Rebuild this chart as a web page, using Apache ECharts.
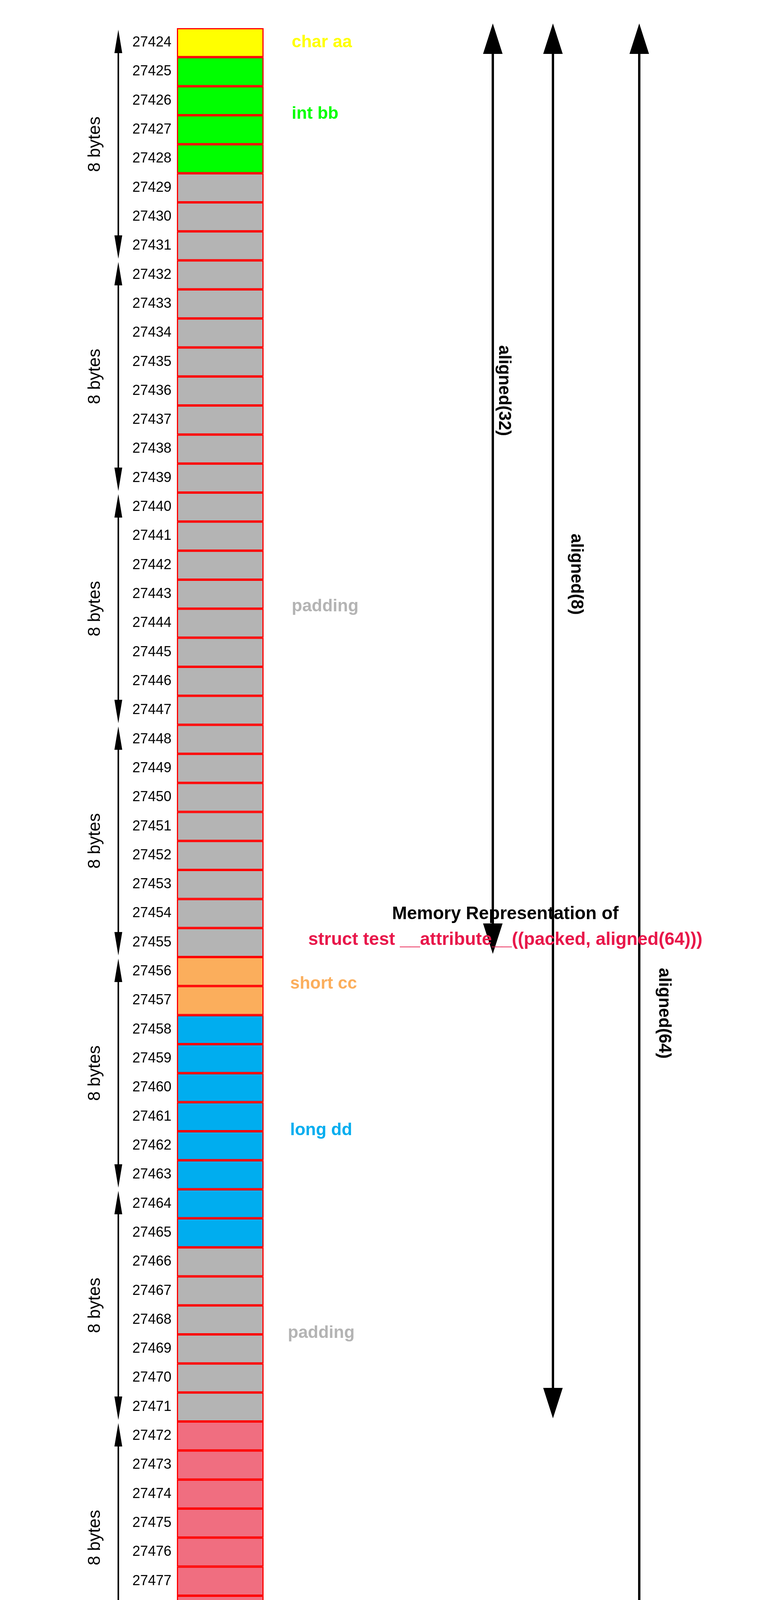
<!DOCTYPE html>
<html><head><meta charset="utf-8">
<script src="https://cdn.jsdelivr.net/npm/echarts@6/dist/echarts.min.js"></script>
<style>html,body{margin:0;padding:0;background:#fff}#c{width:2000px;height:4950px}</style>
</head><body><div id="c"></div>
<script>
const addresses = [];
for (let a = 27424; a <= 27487; a++) addresses.push(String(a));
// member type of each byte
const members = ['char','int','int','int','int','pad','pad','pad',
 'pad','pad','pad','pad','pad','pad','pad','pad',
 'pad','pad','pad','pad','pad','pad','pad','pad',
 'pad','pad','pad','pad','pad','pad','pad','pad',
 'short','short','long','long','long','long','long','long',
 'long','long','pad','pad','pad','pad','pad','pad',
 'union','union','union','union','union','union','union','union',
 'union','union','union','union','union','union','union','union'];
const memberColors = {char:'#ffff00', int:'#00ff00', pad:'#b4b4b4', short:'#fbae5c', long:'#00adef', union:'#f06e80'};
const groupSize = 8;
// alignment arrows: [label, first byte index, last byte index]
const alignArrows = [['aligned(32)',0,31],['aligned(8)',0,47],['aligned(64)',0,63]];

const chart = echarts.init(document.getElementById('c'), null, {renderer:'canvas'});
const FONT = "'Liberation Sans', Arial, sans-serif";
chart.setOption({
  animation:false,
  grid:{left:453, top:72, width:222, height:4756},
  xAxis:{type:'value', min:0, max:1, show:false},
  yAxis:{type:'category', data:addresses, inverse:true,
    axisLine:{show:false}, axisTick:{show:false}, splitLine:{show:false},
    axisLabel:{fontFamily:"'Liberation Sans', Arial, sans-serif", fontSize:36, color:'#000', margin:14}},
  series:[{type:'bar', barWidth:'100%', silent:true,
    data: members.map(m=>({value:1, itemStyle:{color:memberColors[m], borderColor:'#ff0000', borderWidth:3}}))}]
});

function yTop(i){ return chart.convertToPixel({yAxisIndex:0}, addresses[i]) - 37.2; }
function yBot(i){ return chart.convertToPixel({yAxisIndex:0}, addresses[i]) + 37.2; }
const g = [];
function arrow(x, y1, y2, lw, hw, hh){
  g.push({type:'line', shape:{x1:x,y1:y1+hh*0.8,x2:x,y2:y2-hh*0.8}, style:{stroke:'#000', lineWidth:lw}});
  g.push({type:'polygon', shape:{points:[[x,y1],[x-hw/2,y1+hh],[x+hw/2,y1+hh]]}, style:{fill:'#000'}});
  g.push({type:'polygon', shape:{points:[[x,y2],[x-hw/2,y2-hh],[x+hw/2,y2-hh]]}, style:{fill:'#000'}});
}
function text(t, x, y, size, color, opts={}){
  g.push({type:'text', x, y, rotation:opts.rot||0,
    style:{text:t, fill:color, font:`${opts.weight||'bold'} ${size}px ${FONT}`,
      textAlign:opts.align||'left', textVerticalAlign:'middle'}});
}
for (let s=0; s<addresses.length; s+=groupSize){
  const y1=yTop(s), y2=yBot(s+groupSize-1);
  arrow(303, y1+4, y2-4, 4, 20, 60);
  text('8 bytes', 244, (y1+y2)/2, 44, '#000', {rot:Math.PI/2, align:'center', weight:'normal'});
}
const ax=[1262,1416,1637], lx=[1290,1475,1700], ly=[1000,1470,2594];
alignArrows.forEach((a,k)=>{
  arrow(ax[k], yTop(a[1])-12, yBot(a[2])-8, 6, 50, 78);
  text(a[0], lx[k], ly[k], 44, '#000', {rot:-Math.PI/2, align:'center'});
});
text('char aa', 747, 109, 44, '#ffff00');
text('int bb', 747, 292, 44, '#00ff00');
text('padding', 747, 1553, 44, '#b4b4b4');
text('short cc', 743, 2519, 44, '#fbae5c');
text('long dd', 743, 2894, 44, '#00adef');
text('padding', 737, 3413, 44, '#b4b4b4');
text('union ee', 747, 4228, 44, '#f06e80');
text('union ee', 981, 4222, 44, '#f06e80');
text('Memory Representation of', 1294, 2340, 46, '#000', {align:'center'});
text('struct test __attribute__((packed, aligned(64)))', 1294, 2406, 46, '#e8174a', {align:'center'});
chart.setOption({graphic:g});
</script></body></html>
